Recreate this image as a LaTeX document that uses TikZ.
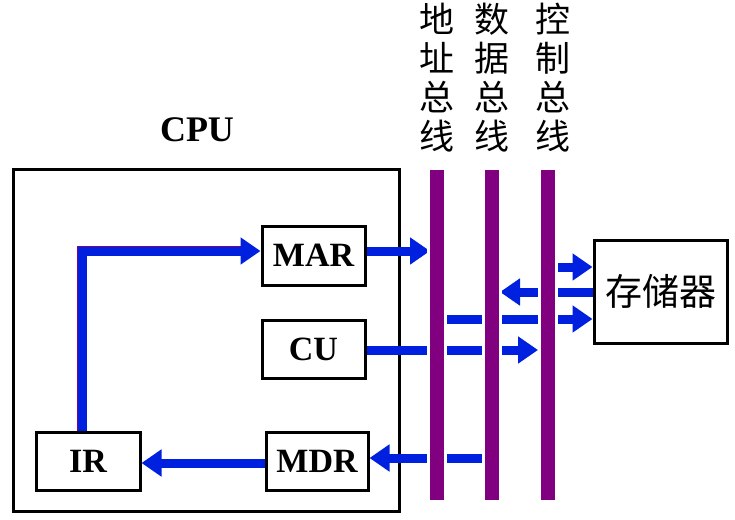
\documentclass[tikz,border=0pt]{standalone}
\usepackage{fontspec}
\setmainfont{Liberation Serif}
\newfontfamily\cjk{Noto Sans CJK SC}
\usetikzlibrary{arrows.meta}
\definecolor{busc}{HTML}{800080}
\definecolor{arrc}{HTML}{0020E0}
\begin{document}
\begin{tikzpicture}[x=1pt,y=-1pt,
  box/.style={draw,line width=3pt,inner sep=0pt,font=\fontsize{34}{34}\selectfont\bfseries},
  sig/.style={draw=arrc,line width=9pt,-{Triangle[length=20pt,width=26pt]}},
  sign/.style={draw=arrc,line width=9pt},
  bus/.style={draw=busc,line width=14pt,preaction={draw=white,line width=20pt}},
  lab/.style={font=\fontsize{35}{39}\selectfont\cjk,align=center,anchor=north}]
\useasboundingbox (0,0) rectangle (735,519);
\node[box,minimum width=386,minimum height=342,anchor=north west] (cpu) at (12,168) {};
\node[font=\fontsize{36}{36}\selectfont\bfseries] (cpul) at (197,130) {CPU};
\node[box,minimum width=103,minimum height=59] (mar) at (313.5,255.5) {MAR};
\node[box,minimum width=103,minimum height=58] (cu) at (313.5,349) {CU};
\node[box,minimum width=102,minimum height=58] (mdr) at (317,461) {MDR};
\node[box,minimum width=104,minimum height=58] (ir) at (88,461) {IR};
\node[box,minimum width=133,minimum height=103,font=\fontsize{37}{37}\selectfont\cjk] (mem) at (660.5,291.5) {存储器};
% signal arrows
\coordinate (a1) at (430,251);
\draw[sig] (mar.east |- a1) -- (a1);
\coordinate (m1) at (557,267);
\draw[sig] (m1) -- (mem.west |- m1);
\coordinate (m2) at (500,292);
\draw[sig] (mem.west |- m2) -- (m2);
\coordinate (m3) at (446,319);
\draw[sig] (m3) -- (mem.west |- m3);
\coordinate (c1) at (538,350);
\draw[sig] (cu.east |- c1) -- (c1);
\coordinate (d1) at (484,458);
\draw[sig] (d1) -- (mdr.east |- d1);
\draw[sig] (mdr.west |- 0,463) -- (ir.east |- 0,463);
\coordinate (k) at (82,251);
\draw[sign,draw=busc,line width=10.5pt] (ir.north -| k) -- (k) -- ([xshift=-20pt]mar.west |- k);
\draw[sig] (ir.north -| k) -- (k) -- (mar.west |- k);
% buses
\coordinate (b1) at (437,170); \coordinate (b1e) at (437,500);
\coordinate (b2) at (492,170); \coordinate (b2e) at (492,500);
\coordinate (b3) at (548,170); \coordinate (b3e) at (548,500);
\draw[bus] (b1) -- (b1e);
\draw[bus] (b2) -- (b2e);
\draw[bus] (b3) -- (b3e);
\node[lab] (l1) at (437,0) {地\\址\\总\\线};
\node[lab] (l2) at (492,0) {数\\据\\总\\线};
\node[lab] (l3) at (553,0) {控\\制\\总\\线};
\end{tikzpicture}
\end{document}
